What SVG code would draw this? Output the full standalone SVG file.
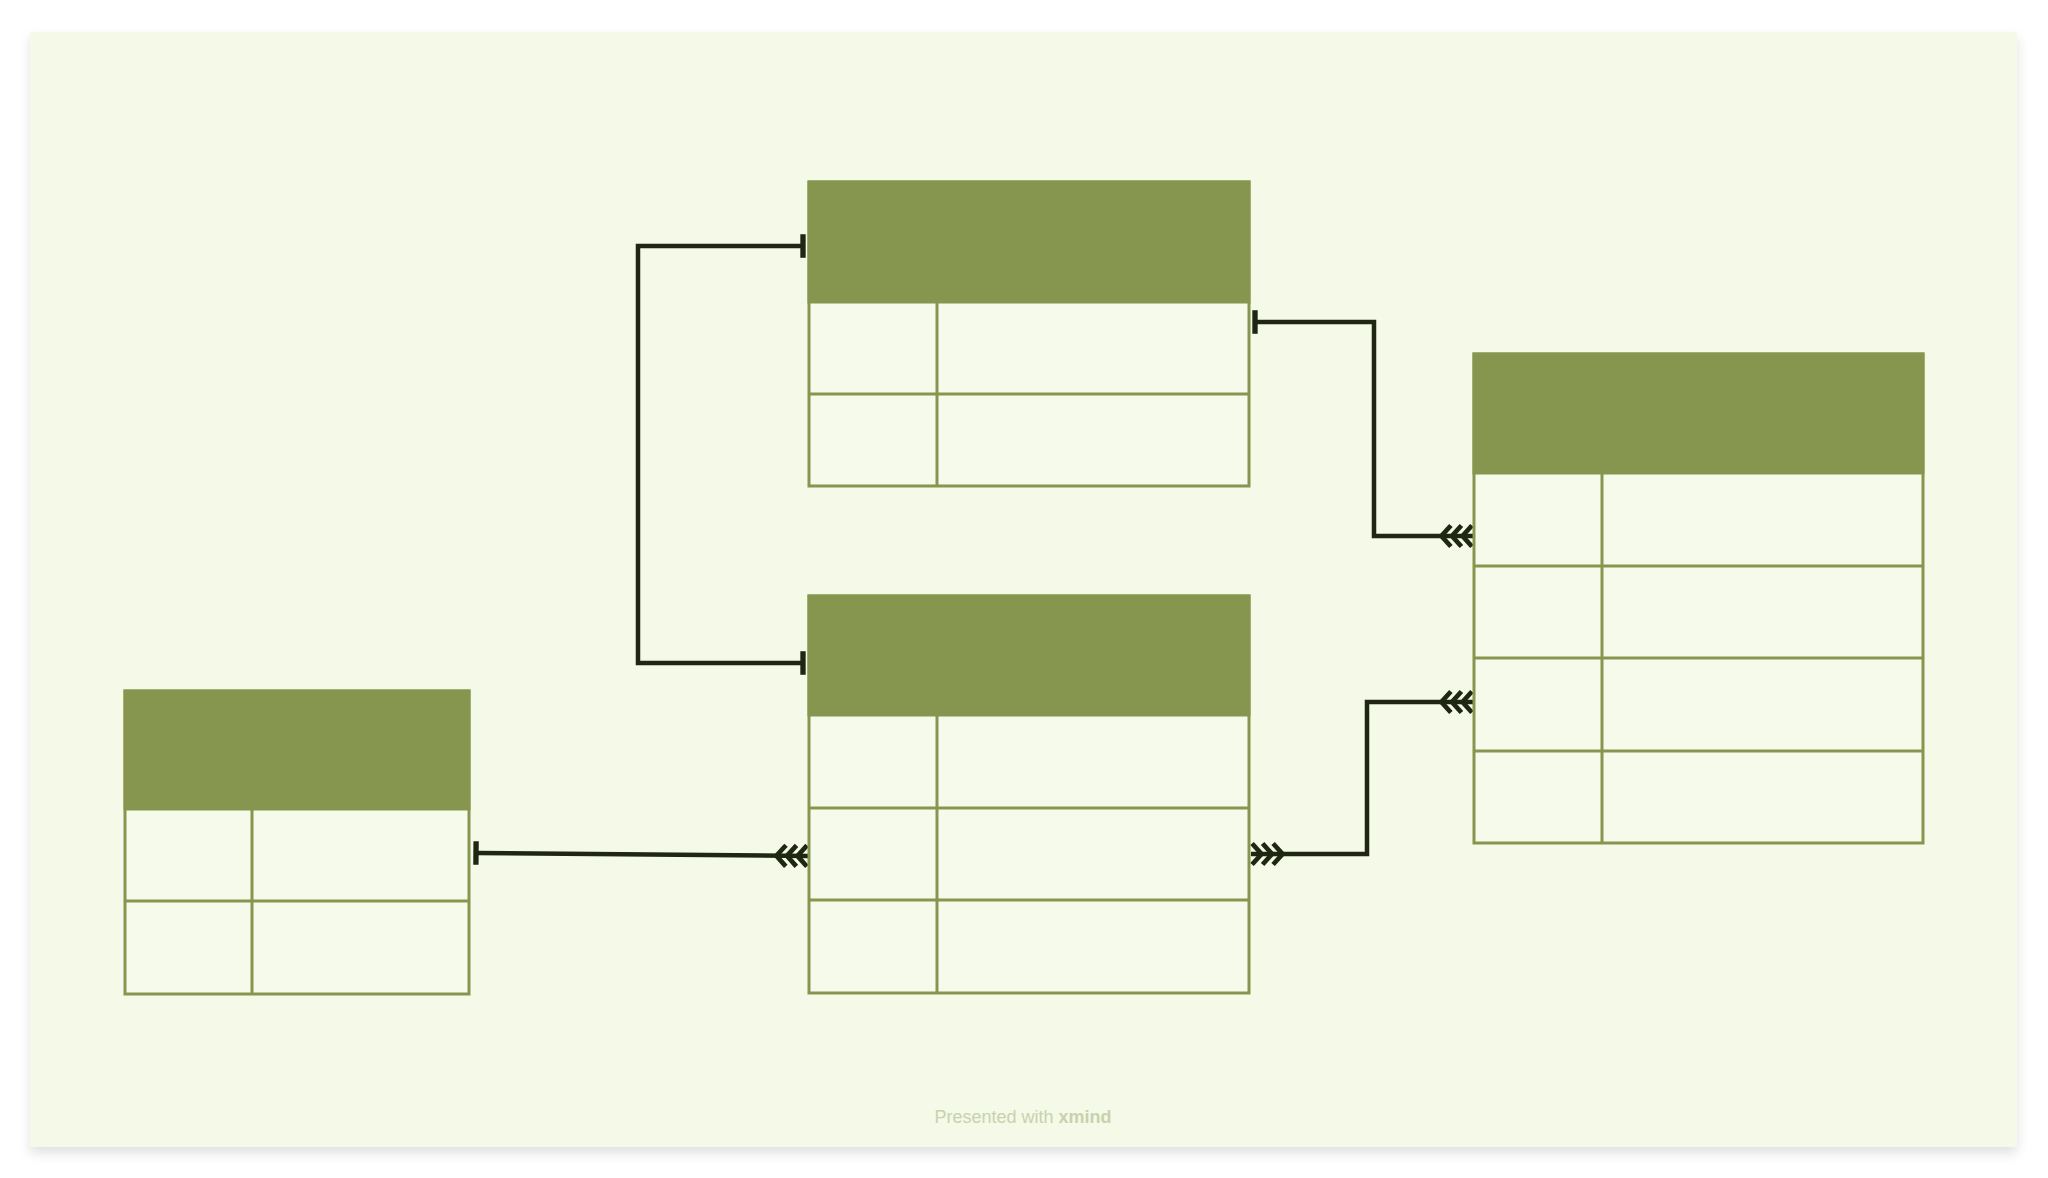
<svg xmlns="http://www.w3.org/2000/svg" width="2048" height="1178" viewBox="0 0 2048 1178">
<style>
.hdr{fill:#87964F;stroke:#87964F;stroke-width:3}
.cell{fill:#F6FAEA;stroke:#87964F;stroke-width:3}
.ln{fill:none;stroke:#87964F;stroke-width:3}
.conn{fill:none;stroke:#1F2713;stroke-width:4.5}
.foot{font-family:"Liberation Sans",Arial,sans-serif;font-size:18px;fill:#C8D2AD}
</style>
<defs>
<filter id="sh" x="-5%" y="-5%" width="110%" height="115%">
<feDropShadow dx="0" dy="6" stdDeviation="6" flood-color="#000" flood-opacity="0.12"/>
</filter>
<marker id="one" markerUnits="userSpaceOnUse" markerWidth="20" markerHeight="30" viewBox="-6 -14 12 28" refX="0" refY="0" orient="auto-start-reverse">
<path d="M0,-11 V11" stroke="#1F2713" stroke-width="5" fill="none"/>
</marker>
<marker id="many" markerUnits="userSpaceOnUse" markerWidth="40" markerHeight="30" viewBox="-34 -14 38 28" refX="0" refY="0" orient="auto-start-reverse">
<path d="M-21,-10 L-30,0 L-21,10 M-11,-10 L-20,0 L-11,10 M-1,-10 L-10,0 L-1,10" stroke="#1F2713" stroke-width="4.5" fill="none"/>
</marker>
</defs>
<rect x="0" y="0" width="2048" height="1178" fill="#FFFFFF"/>
<rect x="30" y="32" width="1987" height="1115" fill="#F4F9E8" filter="url(#sh)"/>

<g id="connectors">
<path class="conn" d="M803,246 H638 V663 H803" marker-start="url(#one)" marker-end="url(#one)"/>
<path class="conn" d="M1255,322 H1374 V536 H1473" marker-start="url(#one)" marker-end="url(#many)"/>
<path class="conn" d="M476,853 L808,856" marker-start="url(#one)" marker-end="url(#many)"/>
<path class="conn" d="M1251,854 H1367 V702 H1473" marker-start="url(#many)" marker-end="url(#many)"/>
</g>

<g id="tableA">
<rect class="cell" x="809" y="182" width="440" height="304"/>
<rect class="hdr" x="809" y="182" width="440" height="120"/>
<path class="ln" d="M809,394 H1249 M937,302 V486"/>
</g>

<g id="tableB">
<rect class="cell" x="809" y="596" width="440" height="397"/>
<rect class="hdr" x="809" y="596" width="440" height="119"/>
<path class="ln" d="M809,808 H1249 M809,900 H1249 M937,715 V993"/>
</g>

<g id="tableC">
<rect class="cell" x="125" y="691" width="344" height="303"/>
<rect class="hdr" x="125" y="691" width="344" height="118"/>
<path class="ln" d="M125,901 H469 M252,809 V994"/>
</g>

<g id="tableD">
<rect class="cell" x="1474" y="354" width="449" height="489"/>
<rect class="hdr" x="1474" y="354" width="449" height="119"/>
<path class="ln" d="M1474,566 H1923 M1474,658 H1923 M1474,751 H1923 M1602,473 V843"/>
</g>

<text class="foot" x="1023" y="1123" text-anchor="middle">Presented with <tspan font-weight="bold">xmind</tspan></text>
</svg>
